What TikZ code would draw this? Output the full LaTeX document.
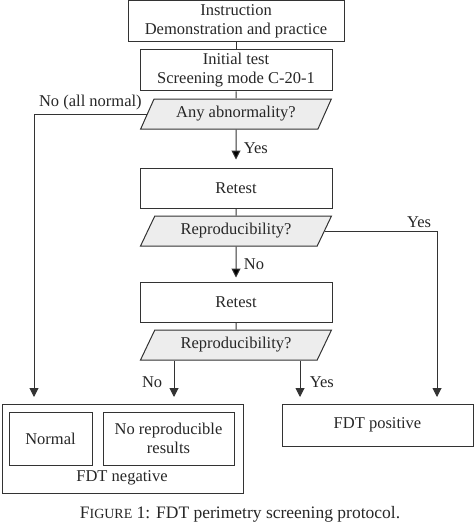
\documentclass[tikz,border=0pt]{standalone}
\usepackage{fontspec}
\setmainfont{Liberation Serif}
\usetikzlibrary{arrows.meta,positioning,shapes.geometric}
\definecolor{linegray}{HTML}{333333}
\definecolor{boxfill}{HTML}{EDEDED}

\begin{document}
\begin{tikzpicture}[x=1pt,y=-1pt,>={Triangle[width=9pt,length=9pt]},node distance=7pt,
		every node/.style={font=\fontsize{16.5}{19}\selectfont,text=black!85}]
		\tikzstyle{box}=[draw=linegray,line width=1pt,minimum width=192pt,minimum height=40pt,align=center,inner sep=2pt]
		\tikzstyle{query}=[trapezium,trapezium left angle=62,trapezium right angle=118,trapezium stretches=true,
			draw=linegray,fill=boxfill,line width=1pt,minimum width=191pt,minimum height=30pt,inner sep=2pt]
		\tikzstyle{line}=[draw=linegray,line width=1pt]

		\useasboundingbox (0,0) rectangle (474,526);

		% main column
		\node[box,minimum width=216pt,minimum height=41.5pt] (instr) at (236,21.25) {Instruction\\Demonstration and practice};
		\node[box,minimum height=41pt] (init) [below=of instr] {Initial test\\Screening mode C-20-1};
		\node[query] (anyab) [below=of init] {Any abnormality?};
		\node[box] (retest1) [below=38pt of anyab] {Retest};
		\node[query] (repro1) [below=of retest1] {Reproducibility?};
		\node[box] (retest2) [below=35pt of repro1] {Retest};
		\node[query] (repro2) [below=of retest2] {Reproducibility?};

		% results
		\node[box,minimum width=241pt,minimum height=89pt] (neg) at (122.5,448.5) {};
		\node[box,minimum width=83pt,minimum height=53pt] (normal) at (50.5,438.5) {Normal};
		\node[box,minimum width=131pt,minimum height=53pt] (norep) at (168.5,438.5) {No reproducible\\results};
		\node (negtxt) at (122,478) {FDT negative};
		\node[box,minimum width=191pt,minimum height=42pt] (pos) at (377.5,425) {FDT positive};

		\coordinate (allnormal) at (34,404);
		\coordinate (yesfoot) at (437,404);
		\coordinate (noleg) at (174,404);
		\coordinate (yesleg) at (300,404);

		\path[line]
		(instr) edge (init)
		(init) edge (anyab)
		(retest1) edge (repro1)
		(retest2) edge (repro2);

		\path[line,->]
		(anyab) edge [shorten >=8pt] node [right,xshift=4pt] {Yes} (retest1)
		(repro1) edge [shorten >=4pt] node [right,xshift=4pt] {No} (retest2);

		\draw[line,->,shorten >=7pt] (anyab.left side) -| node[above,pos=0.25] {No (all normal)} (allnormal);
		\draw[line,->,shorten >=7pt] (repro1.right side) -| node[above,pos=0.42] {Yes} (yesfoot);
		\draw[line,->,shorten >=7pt] (repro2.south -| noleg) -- node[left,xshift=-8pt] {No} (noleg);
		\draw[line,->,shorten >=7pt] (repro2.south -| yesleg) -- node[right,xshift=6pt] {Yes} (yesleg);

		\node[font=\fontsize{17.5}{20}\selectfont] (caption) at (240,514) {F{\fontsize{14}{16}\selectfont IGURE} 1: FDT perimetry screening protocol.};
	\end{tikzpicture}
\end{document}
